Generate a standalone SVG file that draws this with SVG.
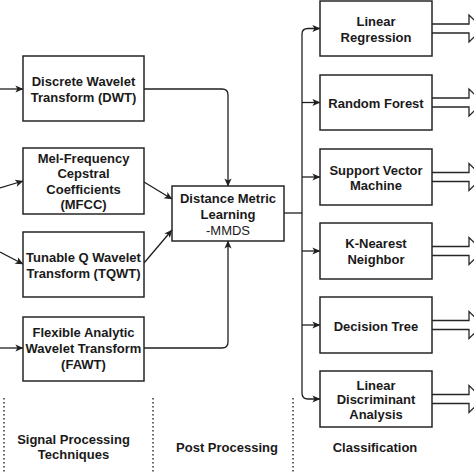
<svg xmlns="http://www.w3.org/2000/svg" width="474" height="474" viewBox="0 0 474 474">
<defs>
<marker id="ah" viewBox="0 0 10 10" refX="9.5" refY="5" markerWidth="9" markerHeight="8" markerUnits="userSpaceOnUse" orient="auto">
<path d="M0,0.5 L10,5 L0,9.5 L2.5,5 z" fill="#1f1f1f"/>
</marker>
<style>
.box{fill:#fff;stroke:#262626;stroke-width:1.5}
.t{font-family:"Liberation Sans",Arial,sans-serif;font-size:13px;font-weight:bold;fill:#1a1a1a;text-anchor:middle}
.r{font-weight:normal}
.c{fill:none;stroke:#1f1f1f;stroke-width:1.3}
.a{marker-end:url(#ah)}
.blk{fill:#fff;stroke:#262626;stroke-width:1.3}
.dot{stroke:#333;stroke-width:1.5;stroke-dasharray:1.5 2.5}
</style>
</defs>
<rect width="474" height="474" fill="#fff"/>

<g id="connectors">
<line class="c a" x1="0" y1="89" x2="23" y2="89"/>
<line class="c a" x1="0" y1="188" x2="23" y2="181"/>
<line class="c a" x1="0" y1="252" x2="23" y2="264"/>
<line class="c a" x1="0" y1="348" x2="23" y2="348"/>
<path class="c a" d="M144,89 H222 Q228,89 228,95 V186"/>
<path class="c a" d="M144,348 H222 Q228,348 228,342 V241"/>
<line class="c a" x1="144" y1="182" x2="172" y2="199"/>
<line class="c a" x1="144" y1="263" x2="172" y2="230"/>
<line class="c" x1="284" y1="213" x2="302" y2="213"/>
<line class="c" x1="302" y1="34" x2="302" y2="393"/>
<path class="c a" d="M302,34 Q302,28.5 308,28.5 H320"/>
<line class="c a" x1="302" y1="102.5" x2="320" y2="102.5"/>
<line class="c a" x1="302" y1="177" x2="320" y2="177"/>
<line class="c a" x1="302" y1="251" x2="320" y2="251"/>
<line class="c a" x1="302" y1="325" x2="320" y2="325"/>
<path class="c a" d="M302,393 Q302,399 308,399 H320"/>
<path class="blk" d="M432,24 H469 V15 L483,28.5 L469,42 V33 H432"/>
<path class="blk" d="M432,98 H469 V89 L483,102.5 L469,116 V107 H432"/>
<path class="blk" d="M432,172.5 H469 V163.5 L483,177 L469,190.5 V181.5 H432"/>
<path class="blk" d="M432,246.5 H469 V237.5 L483,251 L469,264.5 V255.5 H432"/>
<path class="blk" d="M432,320.5 H469 V311.5 L483,325 L469,338.5 V329.5 H432"/>
<path class="blk" d="M432,394.5 H469 V385.5 L483,399 L469,412.5 V403.5 H432"/>
</g>

<g id="dwt"><rect class="box" x="23" y="56" width="121" height="65"/>
<text class="t" x="83.5" y="86">Discrete Wavelet</text><text class="t" x="83.5" y="102">Transform (DWT)</text></g>
<g id="mfcc"><rect class="box" x="23" y="148" width="121" height="66"/>
<text class="t" x="83.5" y="162.5">Mel-Frequency</text><text class="t" x="83.5" y="178">Cepstral</text><text class="t" x="83.5" y="193.5">Coefficients</text><text class="t" x="83.5" y="209">(MFCC)</text></g>
<g id="tqwt"><rect class="box" x="23" y="232" width="121" height="65"/>
<text class="t" x="83.5" y="261.5">Tunable Q Wavelet</text><text class="t" x="83.5" y="277.5">Transform (TQWT)</text></g>
<g id="fawt"><rect class="box" x="23" y="317" width="121" height="64"/>
<text class="t" x="83.5" y="337">Flexible Analytic</text><text class="t" x="83.5" y="353">Wavelet Transform</text><text class="t" x="83.5" y="369">(FAWT)</text></g>

<g id="dml"><rect class="box" x="172" y="186" width="112" height="55"/>
<text class="t" x="228" y="202.5">Distance Metric</text><text class="t" x="228" y="218.5">Learning</text><text class="t r" x="228" y="234.5">-MMDS</text></g>

<g id="lr"><rect class="box" x="320" y="1" width="112" height="55"/>
<text class="t" x="376" y="25.5">Linear</text><text class="t" x="376" y="41.5">Regression</text></g>
<g id="rf"><rect class="box" x="320" y="75" width="112" height="55"/>
<text class="t" x="376" y="107.5">Random Forest</text></g>
<g id="svm"><rect class="box" x="320" y="149" width="112" height="56"/>
<text class="t" x="376" y="174.5">Support Vector</text><text class="t" x="376" y="190">Machine</text></g>
<g id="knn"><rect class="box" x="320" y="223" width="112" height="56"/>
<text class="t" x="376" y="247.5">K-Nearest</text><text class="t" x="376" y="263.5">Neighbor</text></g>
<g id="dt"><rect class="box" x="320" y="297" width="112" height="56"/>
<text class="t" x="376" y="330.5">Decision Tree</text></g>
<g id="lda"><rect class="box" x="320" y="371" width="112" height="56"/>
<text class="t" x="376" y="389.5">Linear</text><text class="t" x="376" y="404">Discriminant</text><text class="t" x="376" y="419">Analysis</text></g>

<g id="sections">
<line class="dot" x1="4" y1="398" x2="4" y2="474"/>
<line class="dot" x1="153" y1="398" x2="153" y2="474"/>
<line class="dot" x1="293" y1="398" x2="293" y2="474"/>
<text class="t" x="73.5" y="443.5">Signal Processing</text><text class="t" x="73.5" y="459">Techniques</text>
<text class="t" x="227" y="451.5">Post Processing</text>
<text class="t" x="375" y="451.5">Classification</text>
</g>
</svg>
